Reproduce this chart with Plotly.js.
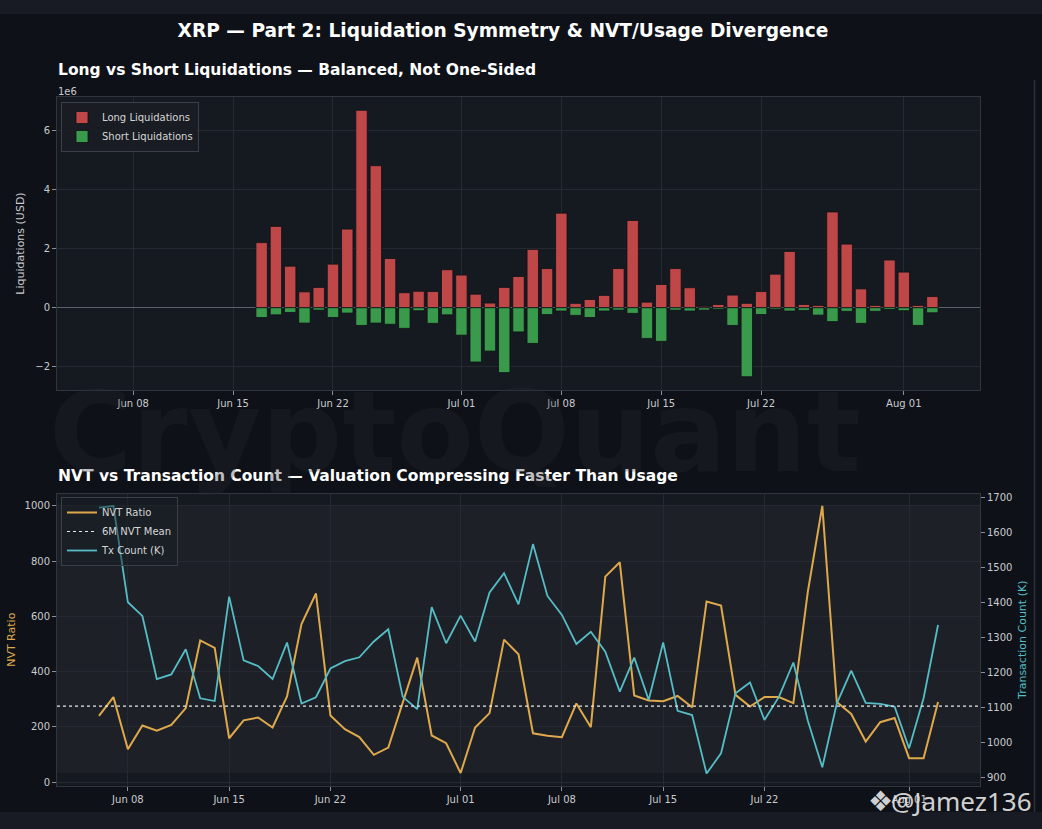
<!DOCTYPE html>
<html><head><meta charset="utf-8">
<script src="https://cdn.plot.ly/plotly-3.0.1.min.js"></script>
<style>html,body{margin:0;padding:0;background:#0e1117;}#chart{width:1042px;height:829px;}</style>
</head><body><div id="chart"></div>
<script>
// ---------- DATA ----------
const liqStart = '2025-06-17';
// USD, in millions (1e6)
const longLiq = [2.21,2.76,1.41,0.54,0.69,1.48,2.67,6.70,4.82,1.67,
                 0.51,0.56,0.55,1.29,1.11,0.46,0.16,0.69,1.06,1.98,
                 1.33,3.21,0.15,0.28,0.42,1.33,2.96,0.19,0.79,1.33,
                 0.68,0.05,0.11,0.43,0.15,0.55,1.14,1.91,0.11,0.08,
                 3.25,2.16,0.64,0.08,1.62,1.21,0.08,0.38];
const shortLiq = [0.33,0.24,0.16,0.52,0.08,0.33,0.18,0.60,0.52,0.56,
                  0.70,0.10,0.53,0.24,0.93,1.84,1.47,2.20,0.82,1.21,
                  0.23,0.11,0.26,0.33,0.11,0.08,0.19,1.04,1.14,0.08,
                  0.11,0.08,0.05,0.60,2.34,0.23,0.05,0.11,0.09,0.25,
                  0.47,0.12,0.53,0.12,0.06,0.10,0.60,0.17];
const nvtStart = '2025-06-06';
const nvtRatio = [240,308,119,205,186,207,268,513,486,159,
                  224,234,198,310,572,683,241,192,163,99,
                  125,288,451,169,141,33,198,250,516,463,
                  177,168,163,285,199,744,796,314,296,293,
                  312,271,654,639,316,274,308,308,286,690,
                  1000,290,247,147,217,232,87,87,290];
const txCountK = [1670,1675,1400,1361,1181,1194,1266,1126,1118,1416,
                  1234,1218,1181,1285,1111,1129,1211,1232,1243,1288,
                  1323,1130,1095,1386,1283,1362,1288,1428,1483,1394,
                  1566,1418,1364,1281,1316,1259,1145,1242,1121,1285,
                  1090,1078,911,969,1140,1171,1064,1130,1228,1062,
                  929,1111,1205,1113,1110,1102,983,1126,1335];
const nvtMean6M = 275;
const tickDates = ['2025-06-08','2025-06-15','2025-06-22','2025-07-01','2025-07-08','2025-07-15','2025-07-22','2025-08-01'];
const tickLabels = ['Jun 08','Jun 15','Jun 22','Jul 01','Jul 08','Jul 15','Jul 22','Aug 01'];
const liqTickVals = [-2,0,2,4,6];
const liqTickText = ['\u22122','0','2','4','6'];
const nvtTicks = [0,200,400,600,800,1000];
const txTicks = [900,1000,1100,1200,1300,1400,1500,1600,1700];

// ---------- HELPERS ----------
function dayList(start, n){
  const d0 = Date.parse(start + 'T00:00:00Z'); const out = [];
  for (let i = 0; i < n; i++) out.push(new Date(d0 + i*864e5).toISOString().slice(0,10));
  return out;
}
const liqDates = dayList(liqStart, longLiq.length);
const nvtDates = dayList(nvtStart, nvtRatio.length);

const W = 1042, H = 829;
const px = v => v / W;
const py = v => 1 - v / H;
const FONT = 'DejaVu Sans, sans-serif';
const TICKC = '#c9cbd0';
const GRID = '#252a32';
const ORANGE = '#dea84c';
const CYAN = '#56bdc7';
const xDom = [px(57), px(980)];

const traces = [
  {type:'bar', name:'Long Liquidations', x: liqDates, y: longLiq.map(v => v*1e6),
   width: 0.8*864e5, marker:{color:'#c04747', line:{color:'#0e1117', width:0.8}},
   xaxis:'x', yaxis:'y', legend:'legend', hoverinfo:'x+y'},
  {type:'bar', name:'Short Liquidations', x: liqDates, y: shortLiq.map(v => -v*1e6),
   width: 0.8*864e5, marker:{color:'#3a9a4c', line:{color:'#0e1117', width:0.8}},
   xaxis:'x', yaxis:'y', legend:'legend', hoverinfo:'x+y'},
  {type:'scatter', mode:'lines', name:'NVT Ratio', x: nvtDates, y: nvtRatio,
   line:{color:ORANGE, width:2}, xaxis:'x2', yaxis:'y2', legend:'legend2', legendrank:1},
  {type:'scatter', mode:'lines', name:'Tx Count (K)', x: nvtDates, y: txCountK,
   line:{color:CYAN, width:1.8}, xaxis:'x2', yaxis:'y3', legend:'legend2', legendrank:3}
];

const xCommon = {
  type:'date', tickvals: tickDates, ticktext: tickLabels, ticks:'outside', ticklen:4,
  tickcolor:'#8a8f98', tickfont:{family:FONT, size:10, color:TICKC},
  showgrid:true, gridcolor:GRID, gridwidth:1, showline:true, linecolor:'#30353e',
  mirror:true, zeroline:false, domain:xDom
};

const legendCommon = {xanchor:'left', yanchor:'top',
  bordercolor:'#3a3f48', borderwidth:1, itemwidth:30,
  font:{family:FONT, size:10, color:'#d6d6d6'}, tracegroupgap:0};

const layout = {
  width: W, height: H, margin:{l:0,r:0,t:0,b:0},
  paper_bgcolor:'#0e1117', plot_bgcolor:'#151920',
  barmode:'overlay', showlegend:true,
  font:{family:FONT, color:TICKC},
  title:{text:'XRP \u2014 Part 2: Liquidation Symmetry & NVT/Usage Divergence',
         x: px(503), y: py(30), xanchor:'center', yanchor:'middle', xref:'paper', yref:'paper',
         font:{family:FONT, size:18.6, color:'#ffffff', weight:'bold'}},
  xaxis: Object.assign({}, xCommon, {anchor:'y',
         range:['2025-06-02 15:50','2025-08-06 08:10']}),
  yaxis: {domain:[py(390), py(97)], anchor:'x', range:[-2.79e6, 7.15e6],
          tickvals: liqTickVals.map(v => v*1e6), ticktext: liqTickText,
          ticks:'outside', ticklen:4, tickcolor:'#8a8f98',
          tickfont:{family:FONT, size:10, color:TICKC},
          showgrid:true, gridcolor:GRID, showline:true, linecolor:'#30353e', mirror:true,
          zeroline:true, zerolinecolor:'#596069', zerolinewidth:1,
          title:{text:'Liquidations (USD)', standoff:8, font:{family:FONT, size:11, color:TICKC}}},
  xaxis2: Object.assign({}, xCommon, {anchor:'y2',
         range:['2025-06-03 02:24','2025-08-05 21:36']}),
  yaxis2: {domain:[py(785.5), py(494)], anchor:'x2', range:[-12, 1043],
          tickvals: nvtTicks, ticks:'outside', ticklen:4, tickcolor:'#8a8f98',
          tickfont:{family:FONT, size:10, color:TICKC},
          showgrid:true, gridcolor:GRID, showline:true, linecolor:'#30353e', mirror:true,
          zeroline:false,
          title:{text:'NVT Ratio', standoff:6, font:{family:FONT, size:11, color:ORANGE}}},
  yaxis3: {overlaying:'y2', side:'right', anchor:'x2', range:[877, 1709],
          tickvals: txTicks, ticks:'outside', ticklen:4, tickcolor:'#8a8f98',
          tickfont:{family:FONT, size:10, color:TICKC},
          showgrid:false, zeroline:false, showline:false,
          title:{text:'Transaction Count (K)', standoff:6, font:{family:FONT, size:11, color:CYAN}}},
  legend: Object.assign({}, legendCommon, {x: px(61), y: py(102), bgcolor:'rgba(25,29,36,0.9)'}),
  legend2: Object.assign({}, legendCommon, {x: px(61), y: py(497), bgcolor:'rgba(25,29,36,0.45)'}),
  shapes: [
    {type:'rect', xref:'paper', yref:'paper', x0:0, x1:1, y0:py(14), y1:1,
     fillcolor:'#181b24', line:{width:0}, layer:'below'},
    {type:'rect', xref:'paper', yref:'paper', x0:0, x1:1, y0:0, y1:py(812),
     fillcolor:'#181b24', line:{width:0}, layer:'below'},
    {type:'line', xref:'paper', yref:'paper', x0:px(1034.5), x1:px(1034.5), y0:py(812), y1:py(80),
     line:{color:'#2c3039', width:1.5}, layer:'below'},
    {type:'rect', xref:'x2 domain', yref:'y2', x0:0, x1:1,
     y0: Math.min(...nvtRatio), y1: Math.max(...nvtRatio),
     fillcolor:'rgba(255,255,255,0.035)', line:{width:0}, layer:'below'},
    {type:'line', xref:'x2 domain', yref:'y2', x0:0, x1:1, y0:nvtMean6M, y1:nvtMean6M,
     line:{color:'#e8e8e8', width:1.2, dash:'dot'}, layer:'above',
     showlegend:true, name:'6M NVT Mean', legend:'legend2', legendrank:2}
  ],
  annotations: [
    {text:'<b>Long vs Short Liquidations \u2014 Balanced, Not One-Sided</b>', xref:'paper', yref:'paper',
     x: px(56), y: py(70), xanchor:'left', yanchor:'middle', showarrow:false,
     font:{family:FONT, size:15.5, color:'#ffffff'}},
    {text:'<b>NVT vs Transaction Count \u2014 Valuation Compressing Faster Than Usage</b>', xref:'paper', yref:'paper',
     x: px(56), y: py(476), xanchor:'left', yanchor:'middle', showarrow:false,
     font:{family:FONT, size:15.5, color:'#ffffff'}},
    {text:'1e6', xref:'paper', yref:'paper', x: px(56), y: py(91), xanchor:'left', yanchor:'middle',
     showarrow:false, font:{family:FONT, size:10, color:TICKC}},
    {text:'<b>CryptoQuant</b>', xref:'paper', yref:'paper', x: px(455), y: py(432),
     xanchor:'center', yanchor:'middle', showarrow:false,
     font:{family:FONT, size:113, color:'rgba(41,44,50,0.3)'}},
    {text:'\u2756', xref:'paper', yref:'paper', x: px(880), y: py(801), xanchor:'center', yanchor:'middle',
     showarrow:false, font:{family:FONT, size:28, color:'rgba(235,235,235,0.9)'}},
    {text:'@Jamez136', xref:'paper', yref:'paper', x: px(1034), y: py(801), xanchor:'right', yanchor:'middle',
     showarrow:false, font:{family:'Noto Sans, sans-serif', size:26, color:'rgba(235,235,235,0.9)'}}
  ]
};

Plotly.newPlot('chart', traces, layout, {displayModeBar:false, staticPlot:true});
</script>
</body></html>
